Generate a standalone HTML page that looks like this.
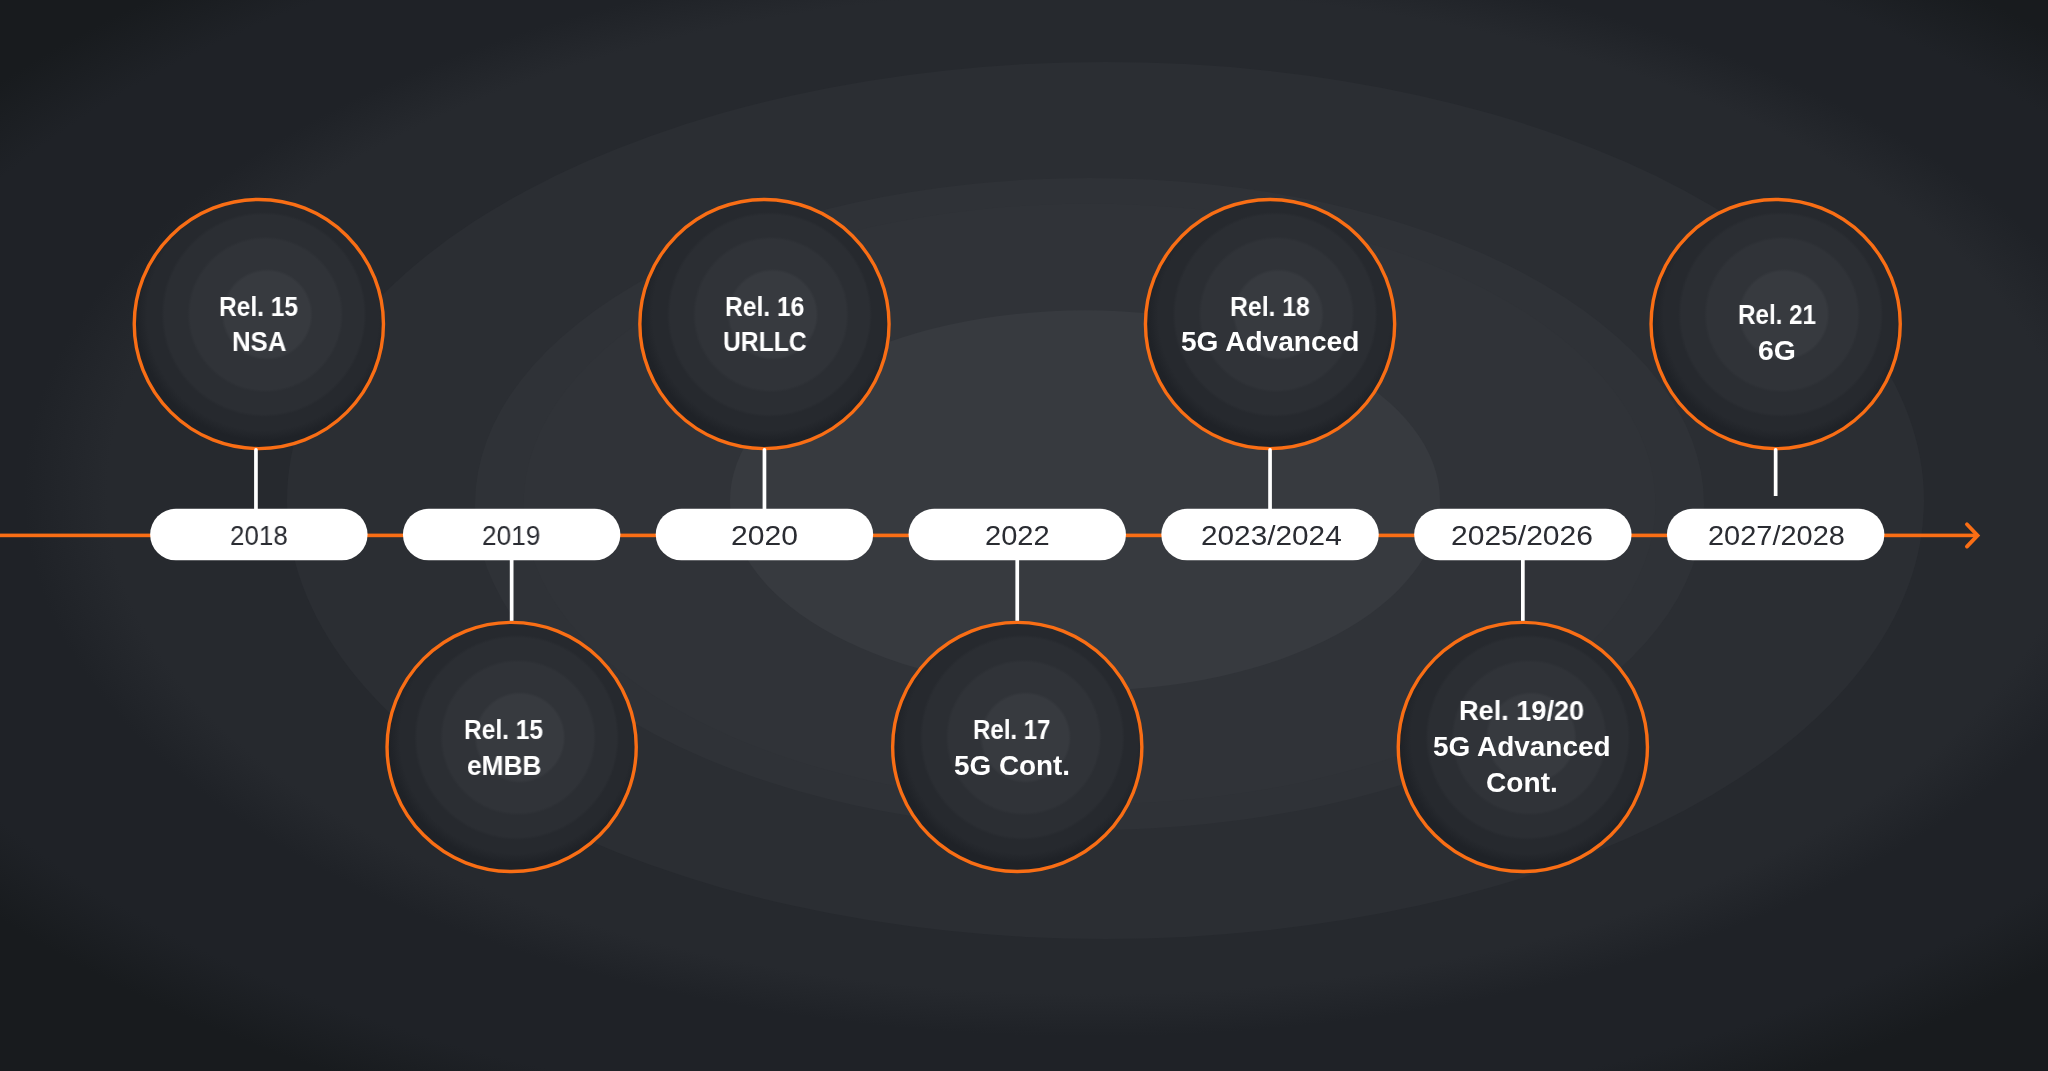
<!DOCTYPE html>
<html lang="en">
<head>
<meta charset="utf-8">
<title>5G Release Timeline</title>
<style>
html,body{margin:0;padding:0;}
body{width:2048px;height:1071px;overflow:hidden;position:relative;font-family:"Liberation Sans",sans-serif;
background:#181b1e;}
.bg{position:absolute;left:0;top:0;width:2048px;height:1071px;background:linear-gradient(#181b1e,#181b1e) no-repeat;}
svg{position:absolute;left:0;top:0;display:block;}
.t{position:absolute;white-space:nowrap;line-height:1;transform-origin:0 0;will-change:transform;-webkit-font-smoothing:antialiased;}
.b{font-weight:700;font-size:27.50px;color:#ffffff;}
.y{font-weight:400;font-size:27.80px;color:#2a2c32;}
</style>
</head>
<body>
<div class="bg"></div>
<svg width="2048" height="1071" viewBox="0 0 2048 1071">
<defs>
<radialGradient id="g0" gradientUnits="userSpaceOnUse" cx="261.70" cy="314.55" fx="269.70" fy="314.55" r="140.0"><stop offset="0" stop-color="#373a3f"/><stop offset="0.3050" stop-color="#373a3f"/><stop offset="0.3264" stop-color="#303338"/><stop offset="0.5357" stop-color="#303338"/><stop offset="0.5571" stop-color="#2b2e33"/><stop offset="0.7107" stop-color="#2b2e33"/><stop offset="0.7321" stop-color="#26292e"/><stop offset="0.8286" stop-color="#26292e"/><stop offset="0.9000" stop-color="#1f2227"/><stop offset="1" stop-color="#1f2227"/></radialGradient>
<radialGradient id="g1" gradientUnits="userSpaceOnUse" cx="514.50" cy="737.45" fx="522.50" fy="737.45" r="140.0"><stop offset="0" stop-color="#373a3f"/><stop offset="0.3050" stop-color="#373a3f"/><stop offset="0.3264" stop-color="#303338"/><stop offset="0.5357" stop-color="#303338"/><stop offset="0.5571" stop-color="#2b2e33"/><stop offset="0.7107" stop-color="#2b2e33"/><stop offset="0.7321" stop-color="#26292e"/><stop offset="0.8286" stop-color="#26292e"/><stop offset="0.9000" stop-color="#1f2227"/><stop offset="1" stop-color="#1f2227"/></radialGradient>
<radialGradient id="g2" gradientUnits="userSpaceOnUse" cx="767.30" cy="314.55" fx="775.30" fy="314.55" r="140.0"><stop offset="0" stop-color="#373a3f"/><stop offset="0.3050" stop-color="#373a3f"/><stop offset="0.3264" stop-color="#303338"/><stop offset="0.5357" stop-color="#303338"/><stop offset="0.5571" stop-color="#2b2e33"/><stop offset="0.7107" stop-color="#2b2e33"/><stop offset="0.7321" stop-color="#26292e"/><stop offset="0.8286" stop-color="#26292e"/><stop offset="0.9000" stop-color="#1f2227"/><stop offset="1" stop-color="#1f2227"/></radialGradient>
<radialGradient id="g3" gradientUnits="userSpaceOnUse" cx="1020.10" cy="737.45" fx="1028.10" fy="737.45" r="140.0"><stop offset="0" stop-color="#373a3f"/><stop offset="0.3050" stop-color="#373a3f"/><stop offset="0.3264" stop-color="#303338"/><stop offset="0.5357" stop-color="#303338"/><stop offset="0.5571" stop-color="#2b2e33"/><stop offset="0.7107" stop-color="#2b2e33"/><stop offset="0.7321" stop-color="#26292e"/><stop offset="0.8286" stop-color="#26292e"/><stop offset="0.9000" stop-color="#1f2227"/><stop offset="1" stop-color="#1f2227"/></radialGradient>
<radialGradient id="g4" gradientUnits="userSpaceOnUse" cx="1272.90" cy="314.55" fx="1280.90" fy="314.55" r="140.0"><stop offset="0" stop-color="#373a3f"/><stop offset="0.3050" stop-color="#373a3f"/><stop offset="0.3264" stop-color="#303338"/><stop offset="0.5357" stop-color="#303338"/><stop offset="0.5571" stop-color="#2b2e33"/><stop offset="0.7107" stop-color="#2b2e33"/><stop offset="0.7321" stop-color="#26292e"/><stop offset="0.8286" stop-color="#26292e"/><stop offset="0.9000" stop-color="#1f2227"/><stop offset="1" stop-color="#1f2227"/></radialGradient>
<radialGradient id="g5" gradientUnits="userSpaceOnUse" cx="1525.70" cy="737.45" fx="1533.70" fy="737.45" r="140.0"><stop offset="0" stop-color="#373a3f"/><stop offset="0.3050" stop-color="#373a3f"/><stop offset="0.3264" stop-color="#303338"/><stop offset="0.5357" stop-color="#303338"/><stop offset="0.5571" stop-color="#2b2e33"/><stop offset="0.7107" stop-color="#2b2e33"/><stop offset="0.7321" stop-color="#26292e"/><stop offset="0.8286" stop-color="#26292e"/><stop offset="0.9000" stop-color="#1f2227"/><stop offset="1" stop-color="#1f2227"/></radialGradient>
<radialGradient id="g6" gradientUnits="userSpaceOnUse" cx="1778.50" cy="314.55" fx="1786.50" fy="314.55" r="140.0"><stop offset="0" stop-color="#373a3f"/><stop offset="0.3050" stop-color="#373a3f"/><stop offset="0.3264" stop-color="#303338"/><stop offset="0.5357" stop-color="#303338"/><stop offset="0.5571" stop-color="#2b2e33"/><stop offset="0.7107" stop-color="#2b2e33"/><stop offset="0.7321" stop-color="#26292e"/><stop offset="0.8286" stop-color="#26292e"/><stop offset="0.9000" stop-color="#1f2227"/><stop offset="1" stop-color="#1f2227"/></radialGradient>
<radialGradient id="se" gradientUnits="objectBoundingBox" cx="0.5" cy="0.5" r="0.5"><stop offset="0" stop-color="#1f2227"/><stop offset="0.9185" stop-color="#1f2227"/><stop offset="1" stop-color="#1f2227" stop-opacity="0"/></radialGradient>
<radialGradient id="sd" gradientUnits="objectBoundingBox" cx="0.5" cy="0.5" r="0.5"><stop offset="0" stop-color="#26292e"/><stop offset="0.9214" stop-color="#26292e"/><stop offset="1" stop-color="#26292e" stop-opacity="0"/></radialGradient>
</defs>
<ellipse cx="1066.4" cy="500.0" rx="1350.4" ry="681.9" fill="url(#se)"/>
<ellipse cx="1091.8" cy="492.4" rx="1068.1" ry="544.2" fill="url(#sd)"/>
<ellipse cx="1105.5" cy="500.5" rx="818.5" ry="438.5" fill="#2b2e33"/>
<ellipse cx="1089.5" cy="504.0" rx="614.5" ry="326.0" fill="#2f3237"/>
<ellipse cx="1089.5" cy="504.0" rx="566.0" ry="300.3" fill="#303338"/>
<ellipse cx="1085.0" cy="500.5" rx="355.0" ry="190.2" fill="#373a3f"/>
<rect x="0" y="533.60" width="1976" height="3.60" fill="#f96e15"/>
<path d="M1966.9 524.3 L1977.6 535.4 L1966.9 546.6" fill="none" stroke="#f96e15" stroke-width="3.8" stroke-linecap="round" stroke-linejoin="miter"/>
<rect x="150.15" y="508.78" width="217.40" height="51.57" rx="25.78" ry="25.78" fill="#ffffff"/>
<rect x="402.95" y="508.78" width="217.40" height="51.57" rx="25.78" ry="25.78" fill="#ffffff"/>
<rect x="655.75" y="508.78" width="217.40" height="51.57" rx="25.78" ry="25.78" fill="#ffffff"/>
<rect x="908.55" y="508.78" width="217.40" height="51.57" rx="25.78" ry="25.78" fill="#ffffff"/>
<rect x="1161.35" y="508.78" width="217.40" height="51.57" rx="25.78" ry="25.78" fill="#ffffff"/>
<rect x="1414.15" y="508.78" width="217.40" height="51.57" rx="25.78" ry="25.78" fill="#ffffff"/>
<rect x="1666.95" y="508.78" width="217.40" height="51.57" rx="25.78" ry="25.78" fill="#ffffff"/>
<circle cx="258.85" cy="324.05" r="124.60" fill="url(#g0)" stroke="#f96e15" stroke-width="3.40"/>
<circle cx="511.65" cy="746.95" r="124.60" fill="url(#g1)" stroke="#f96e15" stroke-width="3.40"/>
<circle cx="764.45" cy="324.05" r="124.60" fill="url(#g2)" stroke="#f96e15" stroke-width="3.40"/>
<circle cx="1017.25" cy="746.95" r="124.60" fill="url(#g3)" stroke="#f96e15" stroke-width="3.40"/>
<circle cx="1270.05" cy="324.05" r="124.60" fill="url(#g4)" stroke="#f96e15" stroke-width="3.40"/>
<circle cx="1522.85" cy="746.95" r="124.60" fill="url(#g5)" stroke="#f96e15" stroke-width="3.40"/>
<circle cx="1775.65" cy="324.05" r="124.60" fill="url(#g6)" stroke="#f96e15" stroke-width="3.40"/>
<path d="M254.10 510.78 L254.10 449.95 A1.85 1.85 0 0 1 257.80 449.95 L257.80 510.78 Z" fill="#ffffff"/>
<rect x="509.80" y="558.35" width="3.70" height="62.45" fill="#ffffff"/>
<path d="M762.60 510.78 L762.60 449.95 A1.85 1.85 0 0 1 766.30 449.95 L766.30 510.78 Z" fill="#ffffff"/>
<rect x="1015.40" y="558.35" width="3.70" height="62.45" fill="#ffffff"/>
<path d="M1268.20 510.78 L1268.20 449.95 A1.85 1.85 0 0 1 1271.90 449.95 L1271.90 510.78 Z" fill="#ffffff"/>
<rect x="1521.00" y="558.35" width="3.70" height="62.45" fill="#ffffff"/>
<path d="M1773.80 496.00 L1773.80 449.95 A1.85 1.85 0 0 1 1777.50 449.95 L1777.50 496.00 Z" fill="#ffffff"/>
</svg>
<div class="t b" style="left:219.15px;top:292.67px;transform:scaleX(0.8922)">Rel. 15</div>
<div class="t b" style="left:232.10px;top:328.37px;transform:scaleX(0.9371)">NSA</div>
<div class="t b" style="left:464.30px;top:715.77px;transform:scaleX(0.8922)">Rel. 15</div>
<div class="t b" style="left:466.60px;top:751.57px;transform:scaleX(0.9559)">eMBB</div>
<div class="t b" style="left:724.70px;top:292.67px;transform:scaleX(0.8956)">Rel. 16</div>
<div class="t b" style="left:722.85px;top:328.37px;transform:scaleX(0.8984)">URLLC</div>
<div class="t b" style="left:972.85px;top:715.77px;transform:scaleX(0.8741)">Rel. 17</div>
<div class="t b" style="left:953.55px;top:751.57px;transform:scaleX(1.0132)">5G Cont.</div>
<div class="t b" style="left:1229.95px;top:292.77px;transform:scaleX(0.9012)">Rel. 18</div>
<div class="t b" style="left:1180.75px;top:328.17px;transform:scaleX(1.0204)">5G Advanced</div>
<div class="t b" style="left:1459.20px;top:697.37px;transform:scaleX(0.9867)">Rel. 19/20</div>
<div class="t b" style="left:1433.00px;top:732.97px;transform:scaleX(1.0164)">5G Advanced</div>
<div class="t b" style="left:1486.10px;top:768.97px;transform:scaleX(1.0219)">Cont.</div>
<div class="t b" style="left:1737.95px;top:301.07px;transform:scaleX(0.8809)">Rel. 21</div>
<div class="t b" style="left:1758.05px;top:336.77px;transform:scaleX(1.0331)">6G</div>
<div class="t y" style="left:230.10px;top:521.87px;transform:scaleX(0.9328)">2018</div>
<div class="t y" style="left:482.40px;top:521.87px;transform:scaleX(0.9425)">2019</div>
<div class="t y" style="left:730.80px;top:521.87px;transform:scaleX(1.0816)">2020</div>
<div class="t y" style="left:985.00px;top:521.87px;transform:scaleX(1.0460)">2022</div>
<div class="t y" style="left:1200.85px;top:521.87px;transform:scaleX(1.0707)">2023/2024</div>
<div class="t y" style="left:1451.30px;top:521.87px;transform:scaleX(1.0806)">2025/2026</div>
<div class="t y" style="left:1707.85px;top:521.87px;transform:scaleX(1.0418)">2027/2028</div>
</body>
</html>
